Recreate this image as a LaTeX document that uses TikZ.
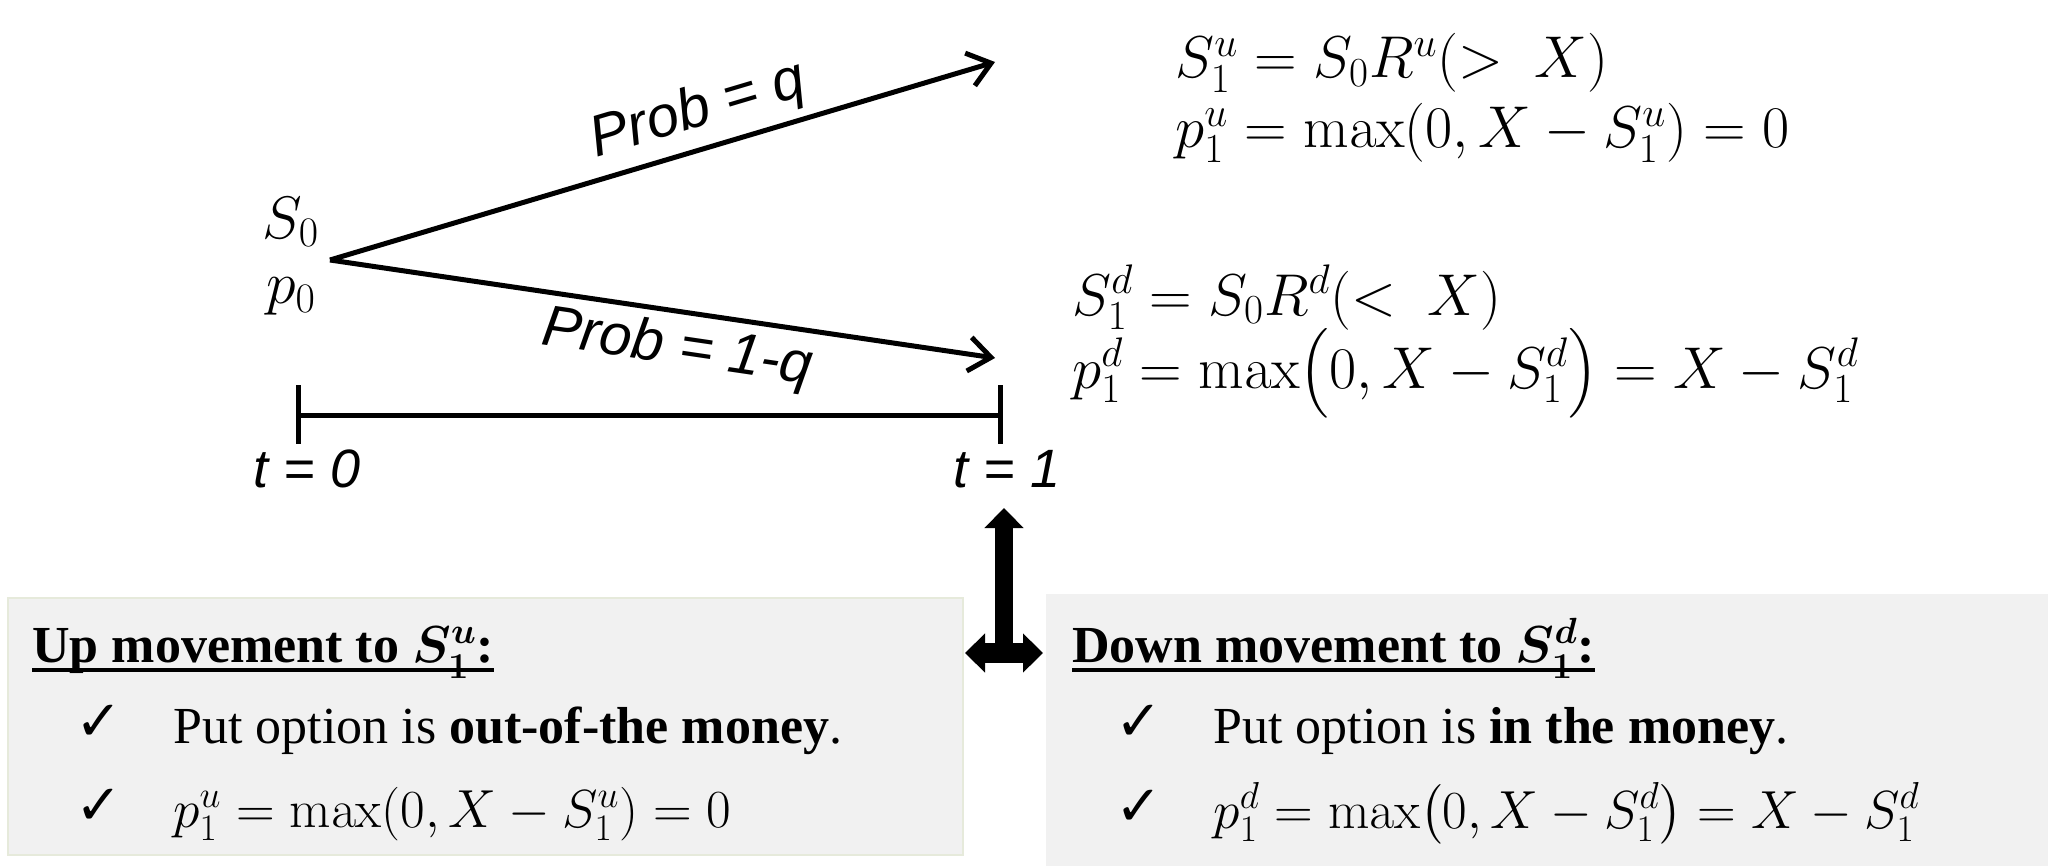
\RequirePackage{fix-cm}
\documentclass[tikz,border=0pt]{standalone}
\usepackage{amsmath}
\usepackage[no-math]{fontspec}
\setmainfont{Liberation Serif}
\newfontfamily\arialf{Liberation Sans}
\newfontfamily\dejavu{DejaVu Sans}
\newcommand\thickul[1]{\setbox0\hbox{#1}\rlap{\rule[-5pt]{\wd0}{2.2pt}}\box0}
\usetikzlibrary{arrows.meta}
\definecolor{boxfill}{HTML}{F1F1F1}
\definecolor{boxline}{HTML}{E6EADB}
\begin{document}
\begin{tikzpicture}[x=0.5pt,y=-0.5pt,
  mathtxt/.style={inner sep=0pt,anchor=base west,font=\fontsize{29.5}{34}\selectfont},
  lbl/.style={inner sep=0pt,font=\arialf\itshape\fontsize{27}{32}\selectfont},
  problbl/.style={inner sep=0pt,font=\arialf\itshape\fontsize{29}{32}\selectfont},
  branch/.style={line width=2.5pt,-{Straight Barb[length=11pt,width=17pt,line width=2.5pt]}},
  axisline/.style={line width=2.5pt},
  boxtxt/.style={inner sep=0pt,anchor=base west,font=\fontsize{26}{30}\selectfont},
  boxmath/.style={inner sep=0pt,anchor=base west,font=\fontsize{26.8}{30}\selectfont},
  chk/.style={inner sep=0pt,anchor=base west,font=\dejavu\fontsize{28}{32}\selectfont},
  fatarrow/.style={line width=9pt}]
\useasboundingbox (0,0) rectangle (2048,866);

% tree
\coordinate (O) at (330,260);
\coordinate (U) at (995,62);
\coordinate (D) at (995,358);
\draw[branch] (O) -- (U) node[problbl,pos=0.57,sloped,above=4pt] (pq) {Prob = q};
\draw[branch] (O) -- (D) node[problbl,pos=0.53,sloped,below=4pt] (pnq) {Prob = 1-q};

\node[mathtxt,anchor=base] (s0) at (291,238) {\fontsize{30}{34}\selectfont$S_0$};
\node[mathtxt,anchor=base] (p0) at (291,303) {\fontsize{30}{34}\selectfont$p_0$};

% time axis
\coordinate (T0) at (298,415);
\coordinate (T1) at (1000,415);
\coordinate (T0a) at (298,385);
\coordinate (T0b) at (298,444);
\coordinate (T1a) at (1000,385);
\coordinate (T1b) at (1000,444);
\draw[axisline] (T0) -- (T1);
\draw[axisline] (T0a) -- (T0b);
\draw[axisline] (T1a) -- (T1b);
\node[lbl,anchor=base] (t0) at (307,487) {t = 0};
\node[lbl,anchor=base] (t1) at (1007,487) {t = 1};

% outcomes
\node[mathtxt] (su) at (1175,78) {$S_1^u = S_0R^u(>\ X)$};
\node[mathtxt] (pu) at (1175,148) {$p_1^u = \max(0, X - S_1^u) = 0$};
\node[mathtxt] (sd) at (1072,315) {$S_1^d = S_0R^d(<\ X)$};
\node[mathtxt] (pd) at (1072,388) {$p_1^d = \max\bigl(0, X - S_1^d\bigr) = X - S_1^d$};

% boxes
\fill[boxfill,draw=boxline,line width=1pt] (8,598) rectangle (963,855);
\fill[boxfill] (1046,594) rectangle (2048,866);

\node[boxtxt] (uh) at (32,662) {\thickul{\textbf{Up movement to $\boldsymbol{S_1^u}$:}}};
\node[chk] (uc1) at (75,740) {✓};
\node[boxtxt] (ut) at (173,743) {Put option is \textbf{out-of-the money}.};
\node[chk] (uc2) at (75,824) {✓};
\node[boxmath] (uf) at (173,827) {$p_1^u = \max(0, X - S_1^u) = 0$};

\node[boxtxt] (dh) at (1072,662) {\thickul{\textbf{Down movement to $\boldsymbol{S_1^d}$:}}};
\node[chk] (dc1) at (1115,740) {✓};
\node[boxtxt] (dt) at (1213,743) {Put option is \textbf{in the money}.};
\node[chk] (dc2) at (1115,825) {✓};
\node[boxmath] (df) at (1213,828) {$p_1^d = \max\bigl(0, X - S_1^d\bigr) = X - S_1^d$};

% T-shaped double arrow
\coordinate (Vt) at (1004,508);
\coordinate (Vb) at (1004,660);
\coordinate (Hl) at (965,653);
\coordinate (Hr) at (1043,653);
\draw[fatarrow,-{Triangle[length=10pt,width=19pt]}] (Vb) -- (Vt);
\draw[fatarrow,line width=10pt,{Triangle[length=10pt,width=19pt]}-{Triangle[length=10pt,width=19pt]}] (Hl) -- (Hr);
\end{tikzpicture}
\end{document}
